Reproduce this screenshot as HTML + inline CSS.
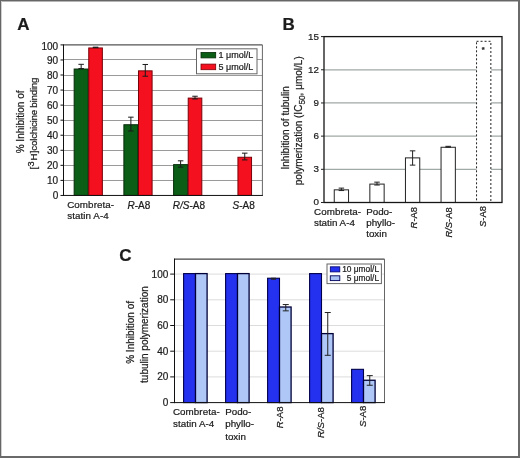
<!DOCTYPE html>
<html><head><meta charset="utf-8"><title>Figure</title>
<style>
html,body{margin:0;padding:0;background:#fff;}
body{width:520px;height:458px;overflow:hidden;}
svg{display:block;}
text{font-family:"Liberation Sans", Arial, Helvetica, sans-serif;fill:#1c1c1c;stroke:#1c1c1c;stroke-width:0.22px;}
</style></head><body>
<svg width="520" height="458" viewBox="0 0 520 458">
<rect width="520" height="458" fill="#fff"/>
<text x="17.3" y="29.8" font-size="17" text-anchor="start" font-weight="bold">A</text>
<line x1="63.5" y1="180.5" x2="262.4" y2="180.5" stroke="#9a9a9a" stroke-width="1"/>
<line x1="63.5" y1="165.5" x2="262.4" y2="165.5" stroke="#9a9a9a" stroke-width="1"/>
<line x1="63.5" y1="150.5" x2="262.4" y2="150.5" stroke="#9a9a9a" stroke-width="1"/>
<line x1="63.5" y1="135.5" x2="262.4" y2="135.5" stroke="#9a9a9a" stroke-width="1"/>
<line x1="63.5" y1="120.5" x2="262.4" y2="120.5" stroke="#9a9a9a" stroke-width="1"/>
<line x1="63.5" y1="105.5" x2="262.4" y2="105.5" stroke="#9a9a9a" stroke-width="1"/>
<line x1="63.5" y1="90.5" x2="262.4" y2="90.5" stroke="#9a9a9a" stroke-width="1"/>
<line x1="63.5" y1="75.5" x2="262.4" y2="75.5" stroke="#9a9a9a" stroke-width="1"/>
<line x1="63.5" y1="59.5" x2="262.4" y2="59.5" stroke="#9a9a9a" stroke-width="1"/>
<rect x="74.16" y="69.04" width="14.10" height="126.41" fill="#0b5e16" stroke="#052b09" stroke-width="1"/>
<rect x="88.76" y="47.96" width="13.60" height="147.49" fill="#f4101e" stroke="#7a0008" stroke-width="1"/>
<line x1="81.16250000000001" y1="64.32094999999998" x2="81.16250000000001" y2="68.53634999999998" stroke="#1a1a1a" stroke-width="1"/>
<line x1="78.41250000000001" y1="64.32094999999998" x2="83.91250000000001" y2="64.32094999999998" stroke="#1a1a1a" stroke-width="1"/>
<line x1="78.41250000000001" y1="68.53634999999998" x2="83.91250000000001" y2="68.53634999999998" stroke="#1a1a1a" stroke-width="1"/>
<line x1="95.5625" y1="47.15824999999998" x2="95.5625" y2="47.60989999999998" stroke="#1a1a1a" stroke-width="1"/>
<line x1="92.8125" y1="47.15824999999998" x2="98.3125" y2="47.15824999999998" stroke="#1a1a1a" stroke-width="1"/>
<line x1="92.8125" y1="47.60989999999998" x2="98.3125" y2="47.60989999999998" stroke="#1a1a1a" stroke-width="1"/>
<rect x="123.89" y="124.74" width="14.10" height="70.71" fill="#0b5e16" stroke="#052b09" stroke-width="1"/>
<rect x="138.49" y="70.84" width="13.60" height="124.61" fill="#f4101e" stroke="#7a0008" stroke-width="1"/>
<line x1="130.88749999999996" y1="117.16399999999999" x2="130.88749999999996" y2="131.01459999999997" stroke="#1a1a1a" stroke-width="1"/>
<line x1="128.13749999999996" y1="117.16399999999999" x2="133.63749999999996" y2="117.16399999999999" stroke="#1a1a1a" stroke-width="1"/>
<line x1="128.13749999999996" y1="131.01459999999997" x2="133.63749999999996" y2="131.01459999999997" stroke="#1a1a1a" stroke-width="1"/>
<line x1="145.2875" y1="64.47149999999999" x2="145.2875" y2="76.21439999999998" stroke="#1a1a1a" stroke-width="1"/>
<line x1="142.5375" y1="64.47149999999999" x2="148.0375" y2="64.47149999999999" stroke="#1a1a1a" stroke-width="1"/>
<line x1="142.5375" y1="76.21439999999998" x2="148.0375" y2="76.21439999999998" stroke="#1a1a1a" stroke-width="1"/>
<rect x="173.61" y="164.64" width="14.10" height="30.81" fill="#0b5e16" stroke="#052b09" stroke-width="1"/>
<rect x="188.21" y="98.09" width="13.60" height="97.36" fill="#f4101e" stroke="#7a0008" stroke-width="1"/>
<line x1="180.61249999999998" y1="160.8235" x2="180.61249999999998" y2="167.14659999999998" stroke="#1a1a1a" stroke-width="1"/>
<line x1="177.86249999999998" y1="160.8235" x2="183.36249999999998" y2="160.8235" stroke="#1a1a1a" stroke-width="1"/>
<line x1="177.86249999999998" y1="167.14659999999998" x2="183.36249999999998" y2="167.14659999999998" stroke="#1a1a1a" stroke-width="1"/>
<line x1="195.01250000000002" y1="96.23754999999997" x2="195.01250000000002" y2="98.94744999999999" stroke="#1a1a1a" stroke-width="1"/>
<line x1="192.26250000000002" y1="96.23754999999997" x2="197.76250000000002" y2="96.23754999999997" stroke="#1a1a1a" stroke-width="1"/>
<line x1="192.26250000000002" y1="98.94744999999999" x2="197.76250000000002" y2="98.94744999999999" stroke="#1a1a1a" stroke-width="1"/>
<rect x="237.94" y="157.26" width="13.60" height="38.19" fill="#f4101e" stroke="#7a0008" stroke-width="1"/>
<line x1="244.73749999999998" y1="153.14544999999998" x2="244.73749999999998" y2="159.9202" stroke="#1a1a1a" stroke-width="1"/>
<line x1="241.98749999999998" y1="153.14544999999998" x2="247.48749999999998" y2="153.14544999999998" stroke="#1a1a1a" stroke-width="1"/>
<line x1="241.98749999999998" y1="159.9202" x2="247.48749999999998" y2="159.9202" stroke="#1a1a1a" stroke-width="1"/>
<line x1="63.5" y1="44.9" x2="262.4" y2="44.9" stroke="#555" stroke-width="1.3"/>
<line x1="262.4" y1="44.9" x2="262.4" y2="195.45" stroke="#666" stroke-width="1"/>
<line x1="63.5" y1="44.4" x2="63.5" y2="195.95" stroke="#111" stroke-width="1"/>
<line x1="63.0" y1="195.45" x2="262.9" y2="195.45" stroke="#111" stroke-width="1"/>
<line x1="60.5" y1="195.45" x2="63.5" y2="195.45" stroke="#111" stroke-width="1"/>
<text x="58.2" y="199.04999999999998" font-size="10" text-anchor="end" font-weight="normal">0</text>
<line x1="60.5" y1="180.39499999999998" x2="63.5" y2="180.39499999999998" stroke="#111" stroke-width="1"/>
<text x="58.2" y="183.99499999999998" font-size="10" text-anchor="end" font-weight="normal">10</text>
<line x1="60.5" y1="165.33999999999997" x2="63.5" y2="165.33999999999997" stroke="#111" stroke-width="1"/>
<text x="58.2" y="168.93999999999997" font-size="10" text-anchor="end" font-weight="normal">20</text>
<line x1="60.5" y1="150.285" x2="63.5" y2="150.285" stroke="#111" stroke-width="1"/>
<text x="58.2" y="153.885" font-size="10" text-anchor="end" font-weight="normal">30</text>
<line x1="60.5" y1="135.23" x2="63.5" y2="135.23" stroke="#111" stroke-width="1"/>
<text x="58.2" y="138.82999999999998" font-size="10" text-anchor="end" font-weight="normal">40</text>
<line x1="60.5" y1="120.17499999999998" x2="63.5" y2="120.17499999999998" stroke="#111" stroke-width="1"/>
<text x="58.2" y="123.77499999999998" font-size="10" text-anchor="end" font-weight="normal">50</text>
<line x1="60.5" y1="105.11999999999999" x2="63.5" y2="105.11999999999999" stroke="#111" stroke-width="1"/>
<text x="58.2" y="108.71999999999998" font-size="10" text-anchor="end" font-weight="normal">60</text>
<line x1="60.5" y1="90.06499999999998" x2="63.5" y2="90.06499999999998" stroke="#111" stroke-width="1"/>
<text x="58.2" y="93.66499999999998" font-size="10" text-anchor="end" font-weight="normal">70</text>
<line x1="60.5" y1="75.00999999999999" x2="63.5" y2="75.00999999999999" stroke="#111" stroke-width="1"/>
<text x="58.2" y="78.60999999999999" font-size="10" text-anchor="end" font-weight="normal">80</text>
<line x1="60.5" y1="59.954999999999984" x2="63.5" y2="59.954999999999984" stroke="#111" stroke-width="1"/>
<text x="58.2" y="63.554999999999986" font-size="10" text-anchor="end" font-weight="normal">90</text>
<line x1="60.5" y1="44.89999999999998" x2="63.5" y2="44.89999999999998" stroke="#111" stroke-width="1"/>
<text x="58.2" y="49.49999999999998" font-size="10" text-anchor="end" font-weight="normal">100</text>
<rect x="196.50" y="48.80" width="60.50" height="25.00" fill="#fff" stroke="#666" stroke-width="1"/>
<rect x="201.00" y="52.40" width="14.70" height="5.50" fill="#0b5e16" stroke="#052b09" stroke-width="0.8"/>
<rect x="201.00" y="64.10" width="14.70" height="5.60" fill="#f4101e" stroke="#7a0008" stroke-width="0.8"/>
<text x="218.6" y="58.4" font-size="9" text-anchor="start" font-weight="normal">1 μmol/L</text>
<text x="218.6" y="70.1" font-size="9" text-anchor="start" font-weight="normal">5 μmol/L</text>
<text x="67.2" y="208.4" font-size="9.8" text-anchor="start" font-weight="normal" letter-spacing="0.08">Combreta-</text>
<text x="67.2" y="219.0" font-size="9.8" text-anchor="start" font-weight="normal" letter-spacing="0.08">statin A-4</text>
<text x="138.9" y="208.6" font-size="10" text-anchor="middle" font-weight="normal"><tspan font-style="italic">R</tspan>-A8</text>
<text x="188.9" y="208.6" font-size="10" text-anchor="middle" font-weight="normal"><tspan font-style="italic">R/S</tspan>-A8</text>
<text x="243.7" y="208.6" font-size="10" text-anchor="middle" font-weight="normal"><tspan font-style="italic">S</tspan>-A8</text>
<text x="24.3" y="153.3" font-size="10" text-anchor="start" font-weight="normal" transform="rotate(-90 24.3 153.3)">% Inhibition of</text>
<text x="37.2" y="169.6" font-size="9.8" text-anchor="start" font-weight="normal" transform="rotate(-90 37.2 169.6)" letter-spacing="-0.25"><tspan letter-spacing="0">[</tspan><tspan font-size="9.2" dy="-3.4" dx="0.5" letter-spacing="0">3</tspan><tspan dy="3.4" dx="0.8" letter-spacing="0">H]</tspan>colchicine binding</text>
<text x="282.6" y="30.0" font-size="17" text-anchor="start" font-weight="bold">B</text>
<line x1="324.0" y1="169.32" x2="502.0" y2="169.32" stroke="#a0aaa5" stroke-width="1.25"/>
<line x1="324.0" y1="136.14" x2="502.0" y2="136.14" stroke="#a0aaa5" stroke-width="1.25"/>
<line x1="324.0" y1="102.96" x2="502.0" y2="102.96" stroke="#a0aaa5" stroke-width="1.25"/>
<line x1="324.0" y1="69.78" x2="502.0" y2="69.78" stroke="#a0aaa5" stroke-width="1.25"/>
<rect x="334.25" y="189.84" width="14.30" height="12.66" fill="#fff" stroke="#222" stroke-width="1"/>
<line x1="341.40000000000003" y1="188.12199999999999" x2="341.40000000000003" y2="190.55519999999999" stroke="#222" stroke-width="1"/>
<line x1="338.65000000000003" y1="188.12199999999999" x2="344.15000000000003" y2="188.12199999999999" stroke="#222" stroke-width="1"/>
<line x1="338.65000000000003" y1="190.55519999999999" x2="344.15000000000003" y2="190.55519999999999" stroke="#222" stroke-width="1"/>
<rect x="369.85" y="184.09" width="14.30" height="18.41" fill="#fff" stroke="#222" stroke-width="1"/>
<line x1="377.0" y1="182.1496" x2="377.0" y2="185.02519999999998" stroke="#222" stroke-width="1"/>
<line x1="374.25" y1="182.1496" x2="379.75" y2="182.1496" stroke="#222" stroke-width="1"/>
<line x1="374.25" y1="185.02519999999998" x2="379.75" y2="185.02519999999998" stroke="#222" stroke-width="1"/>
<rect x="405.45" y="157.88" width="14.30" height="44.62" fill="#fff" stroke="#222" stroke-width="1"/>
<line x1="412.6" y1="150.8498" x2="412.6" y2="165.1172" stroke="#222" stroke-width="1"/>
<line x1="409.85" y1="150.8498" x2="415.35" y2="150.8498" stroke="#222" stroke-width="1"/>
<line x1="409.85" y1="165.1172" x2="415.35" y2="165.1172" stroke="#222" stroke-width="1"/>
<rect x="441.05" y="147.26" width="14.30" height="55.24" fill="#fff" stroke="#222" stroke-width="1"/>
<line x1="448.20000000000005" y1="146.3152" x2="448.20000000000005" y2="147.2" stroke="#222" stroke-width="1"/>
<line x1="445.45000000000005" y1="146.3152" x2="450.95000000000005" y2="146.3152" stroke="#222" stroke-width="1"/>
<line x1="445.45000000000005" y1="147.2" x2="450.95000000000005" y2="147.2" stroke="#222" stroke-width="1"/>
<rect x="476.55" y="41.3" width="14.30" height="161.20" fill="#fff" stroke="#222" stroke-width="1" stroke-dasharray="2 2"/>
<text x="483.2" y="51.7" font-size="7.5" text-anchor="middle" font-weight="bold">*</text>
<rect x="324.0" y="36.6" width="178.0" height="165.9" fill="none" stroke="#161616" stroke-width="1.3"/>
<line x1="321.0" y1="202.5" x2="324.0" y2="202.5" stroke="#222" stroke-width="1"/>
<text x="319.0" y="205.1" font-size="9.8" text-anchor="end" font-weight="normal">0</text>
<line x1="321.0" y1="169.32" x2="324.0" y2="169.32" stroke="#222" stroke-width="1"/>
<text x="319.0" y="171.92" font-size="9.8" text-anchor="end" font-weight="normal">3</text>
<line x1="321.0" y1="136.14" x2="324.0" y2="136.14" stroke="#222" stroke-width="1"/>
<text x="319.0" y="139.14" font-size="9.8" text-anchor="end" font-weight="normal">6</text>
<line x1="321.0" y1="102.96" x2="324.0" y2="102.96" stroke="#222" stroke-width="1"/>
<text x="319.0" y="105.96" font-size="9.8" text-anchor="end" font-weight="normal">9</text>
<line x1="321.0" y1="69.78" x2="324.0" y2="69.78" stroke="#222" stroke-width="1"/>
<text x="319.0" y="72.78" font-size="9.8" text-anchor="end" font-weight="normal">12</text>
<line x1="321.0" y1="36.599999999999994" x2="324.0" y2="36.599999999999994" stroke="#222" stroke-width="1"/>
<text x="319.0" y="39.599999999999994" font-size="9.8" text-anchor="end" font-weight="normal">15</text>
<text x="314.0" y="215.2" font-size="9.8" text-anchor="start" font-weight="normal" letter-spacing="0.1">Combreta-</text>
<text x="314.0" y="225.8" font-size="9.8" text-anchor="start" font-weight="normal">statin A-4</text>
<text x="366.2" y="215.2" font-size="9.8" text-anchor="start" font-weight="normal">Podo-</text>
<text x="366.2" y="225.8" font-size="9.8" text-anchor="start" font-weight="normal">phyllo-</text>
<text x="366.2" y="237.2" font-size="9.8" text-anchor="start" font-weight="normal">toxin</text>
<text x="417.3" y="228.4" font-size="9.4" text-anchor="start" font-weight="normal" transform="rotate(-90 417.3 228.4)"><tspan font-style="italic">R</tspan>-A8</text>
<text x="451.9" y="237.6" font-size="9.4" text-anchor="start" font-weight="normal" transform="rotate(-90 451.9 237.6)"><tspan font-style="italic">R/S</tspan>-A8</text>
<text x="485.8" y="227.0" font-size="9.4" text-anchor="start" font-weight="normal" transform="rotate(-90 485.8 227.0)"><tspan font-style="italic">S</tspan>-A8</text>
<text x="288.7" y="169.5" font-size="10" text-anchor="start" font-weight="normal" transform="rotate(-90 288.7 169.5)">Inhibition of tubulin</text>
<text x="301.9" y="185.2" font-size="10" text-anchor="start" font-weight="normal" transform="rotate(-90 301.9 185.2)">polymerization (IC<tspan font-size="8.3" dy="2.7">50</tspan><tspan dy="-2.7">, μmol/L)</tspan></text>
<text x="119.3" y="260.6" font-size="17" text-anchor="start" font-weight="bold">C</text>
<line x1="174.5" y1="376.90000000000003" x2="384.5" y2="376.90000000000003" stroke="#dcdcdc" stroke-width="1"/>
<line x1="174.5" y1="351.20000000000005" x2="384.5" y2="351.20000000000005" stroke="#dcdcdc" stroke-width="1"/>
<line x1="174.5" y1="325.5" x2="384.5" y2="325.5" stroke="#dcdcdc" stroke-width="1"/>
<line x1="174.5" y1="299.8" x2="384.5" y2="299.8" stroke="#dcdcdc" stroke-width="1"/>
<line x1="174.5" y1="274.1" x2="384.5" y2="274.1" stroke="#dcdcdc" stroke-width="1"/>
<rect x="183.60" y="273.60" width="11.90" height="129.00" fill="#2431ee" stroke="#00004a" stroke-width="1.1"/>
<rect x="195.50" y="273.60" width="11.60" height="129.00" fill="#aec7f6" stroke="#000038" stroke-width="1.3"/>
<rect x="225.60" y="273.60" width="11.90" height="129.00" fill="#2431ee" stroke="#00004a" stroke-width="1.1"/>
<rect x="237.50" y="273.60" width="11.60" height="129.00" fill="#aec7f6" stroke="#000038" stroke-width="1.3"/>
<rect x="267.60" y="278.23" width="11.90" height="124.37" fill="#2431ee" stroke="#00004a" stroke-width="1.1"/>
<rect x="279.50" y="307.01" width="11.60" height="95.59" fill="#aec7f6" stroke="#000038" stroke-width="1.3"/>
<line x1="285.75" y1="304.5545" x2="285.75" y2="310.851" stroke="#222" stroke-width="1"/>
<line x1="282.75" y1="304.5545" x2="288.75" y2="304.5545" stroke="#222" stroke-width="1"/>
<line x1="282.75" y1="310.851" x2="288.75" y2="310.851" stroke="#222" stroke-width="1"/>
<line x1="273.45" y1="278.21200000000005" x2="273.45" y2="279.24" stroke="#222" stroke-width="1"/>
<line x1="270.95" y1="278.21200000000005" x2="275.95" y2="278.21200000000005" stroke="#222" stroke-width="1"/>
<line x1="270.95" y1="279.24" x2="275.95" y2="279.24" stroke="#222" stroke-width="1"/>
<rect x="309.60" y="273.60" width="11.90" height="129.00" fill="#2431ee" stroke="#00004a" stroke-width="1.1"/>
<rect x="321.50" y="333.61" width="11.60" height="68.99" fill="#aec7f6" stroke="#000038" stroke-width="1.3"/>
<line x1="327.75" y1="312.52150000000006" x2="327.75" y2="355.312" stroke="#222" stroke-width="1"/>
<line x1="324.75" y1="312.52150000000006" x2="330.75" y2="312.52150000000006" stroke="#222" stroke-width="1"/>
<line x1="324.75" y1="355.312" x2="330.75" y2="355.312" stroke="#222" stroke-width="1"/>
<rect x="351.60" y="369.33" width="11.90" height="33.27" fill="#2431ee" stroke="#00004a" stroke-width="1.1"/>
<rect x="363.50" y="380.25" width="11.60" height="22.35" fill="#aec7f6" stroke="#000038" stroke-width="1.3"/>
<line x1="369.75" y1="375.615" x2="369.75" y2="385.2525" stroke="#222" stroke-width="1"/>
<line x1="366.75" y1="375.615" x2="372.75" y2="375.615" stroke="#222" stroke-width="1"/>
<line x1="366.75" y1="385.2525" x2="372.75" y2="385.2525" stroke="#222" stroke-width="1"/>
<line x1="174.5" y1="259.1" x2="384.5" y2="259.1" stroke="#444" stroke-width="1.3"/>
<line x1="384.5" y1="259.1" x2="384.5" y2="402.6" stroke="#666" stroke-width="1"/>
<line x1="174.5" y1="258.5" x2="174.5" y2="403.1" stroke="#111" stroke-width="1"/>
<line x1="174.0" y1="402.6" x2="385.0" y2="402.6" stroke="#111" stroke-width="1"/>
<line x1="170.2" y1="402.6" x2="174.5" y2="402.6" stroke="#111" stroke-width="1"/>
<text x="168.3" y="406.1" font-size="10" text-anchor="end" font-weight="normal">0</text>
<line x1="170.2" y1="376.90000000000003" x2="174.5" y2="376.90000000000003" stroke="#111" stroke-width="1"/>
<text x="168.3" y="380.40000000000003" font-size="10" text-anchor="end" font-weight="normal">20</text>
<line x1="170.2" y1="351.20000000000005" x2="174.5" y2="351.20000000000005" stroke="#111" stroke-width="1"/>
<text x="168.3" y="354.70000000000005" font-size="10" text-anchor="end" font-weight="normal">40</text>
<line x1="170.2" y1="325.5" x2="174.5" y2="325.5" stroke="#111" stroke-width="1"/>
<text x="168.3" y="329.0" font-size="10" text-anchor="end" font-weight="normal">60</text>
<line x1="170.2" y1="299.8" x2="174.5" y2="299.8" stroke="#111" stroke-width="1"/>
<text x="168.3" y="303.3" font-size="10" text-anchor="end" font-weight="normal">80</text>
<line x1="170.2" y1="274.1" x2="174.5" y2="274.1" stroke="#111" stroke-width="1"/>
<text x="168.3" y="277.6" font-size="10" text-anchor="end" font-weight="normal">100</text>
<rect x="327.00" y="264.00" width="54.40" height="19.60" fill="#fff" stroke="#666" stroke-width="1"/>
<rect x="330.30" y="266.80" width="9.50" height="5.10" fill="#2431ee" stroke="#00006a" stroke-width="0.8"/>
<rect x="330.30" y="275.80" width="9.50" height="4.80" fill="#a9c1f3" stroke="#00005a" stroke-width="0.9"/>
<text x="379.1" y="271.5" font-size="8.4" text-anchor="end" font-weight="normal">10 μmol/L</text>
<text x="379.1" y="280.6" font-size="8.4" text-anchor="end" font-weight="normal">5 μmol/L</text>
<text x="173.0" y="415.4" font-size="9.8" text-anchor="start" font-weight="normal" letter-spacing="0.05">Combreta-</text>
<text x="173.0" y="427.2" font-size="9.8" text-anchor="start" font-weight="normal" letter-spacing="0.05">statin A-4</text>
<text x="225.2" y="415.4" font-size="9.8" text-anchor="start" font-weight="normal">Podo-</text>
<text x="225.2" y="427.2" font-size="9.8" text-anchor="start" font-weight="normal">phyllo-</text>
<text x="225.2" y="439.9" font-size="9.8" text-anchor="start" font-weight="normal">toxin</text>
<text x="283.0" y="428.3" font-size="9.6" text-anchor="start" font-weight="normal" transform="rotate(-90 283.0 428.3)"><tspan font-style="italic">R</tspan>-A8</text>
<text x="324.3" y="438.0" font-size="9.6" text-anchor="start" font-weight="normal" transform="rotate(-90 324.3 438.0)"><tspan font-style="italic">R/S</tspan>-A8</text>
<text x="365.9" y="427.0" font-size="9.6" text-anchor="start" font-weight="normal" transform="rotate(-90 365.9 427.0)"><tspan font-style="italic">S</tspan>-A8</text>
<text x="134.5" y="363.8" font-size="10" text-anchor="start" font-weight="normal" transform="rotate(-90 134.5 363.8)">% Inhibition of</text>
<text x="147.7" y="382.9" font-size="10" text-anchor="start" font-weight="normal" transform="rotate(-90 147.7 382.9)">tubulin polymerization</text>

<rect x="0" y="0" width="520" height="1" fill="#666"/>
<rect x="0" y="1" width="520" height="1" fill="#b5b5b5"/>
<rect x="0" y="0" width="1" height="458" fill="#666"/>
<rect x="1" y="1" width="1" height="456" fill="#d0d0d0"/>
<rect x="518" y="0" width="2" height="458" fill="#6a6a6a"/>
<rect x="0" y="456" width="520" height="2" fill="#6a6a6a"/>

</svg>
</body></html>
